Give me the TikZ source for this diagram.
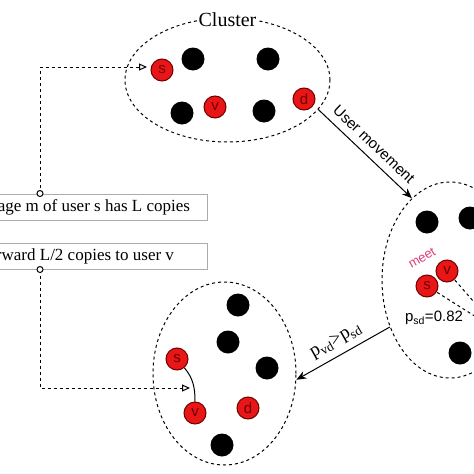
\documentclass[tikz,border=0pt]{standalone}
\usepackage{fontspec}
\setmainfont{Liberation Serif}
\setsansfont{Liberation Sans}
\usepackage{tikz}
\usetikzlibrary{arrows.meta,shapes.geometric}

\definecolor{nodered}{RGB}{232,22,22}
\definecolor{letterred}{RGB}{110,0,0}
\definecolor{meetpink}{RGB}{222,60,125}

\tikzset{
 cluster/.style={ellipse, draw, line width=1pt, dash pattern=on 3pt off 3pt, inner sep=0pt},
 user/.style={circle, draw=letterred, line width=1pt, fill=nodered, minimum size=22pt, inner sep=0pt, text=letterred, font=\sffamily\fontsize{15}{15}\selectfont},
 other/.style={circle, fill=black, minimum size=23pt, inner sep=0pt},
 msgbox/.style={draw=gray!65, line width=1pt, minimum width=262pt, minimum height=26pt, inner sep=0pt, font=\fontsize{17}{17}\selectfont},
 flow/.style={line width=1pt, dash pattern=on 3pt off 3pt, -{Triangle[open, length=8pt, width=7pt]}},
 link/.style={line width=1pt, dash pattern=on 3pt off 3pt},
 knob/.style={line width=1pt, fill=white},
 move/.style={line width=1pt, -{Stealth[length=10pt, width=8pt]}},
 sffont/.style={font=\sffamily\fontsize{15}{15}\selectfont}
}

\begin{document}
\begin{tikzpicture}[x=1pt,y=-1pt]
\useasboundingbox (0,0) rectangle (474,474);
\clip (0,0) rectangle (474,474);

\node[cluster, minimum width=205pt, minimum height=124pt] (topcl) at (227.5,80) {};
\node[cluster, minimum width=136pt, minimum height=196pt] (rightcl) at (450,280) {};
\node[cluster, minimum width=143pt, minimum height=183pt] (botcl) at (224.5,373.5) {};
\node[fill=white, inner sep=1pt, font=\fontsize{20}{20}\selectfont] (cltitle) at ([yshift=-2pt]topcl.north) {Cluster};

\node[user] (ts) at (162,70) {s};
\node[other] (tb1) at (193,59) {};
\node[other] (tb2) at (268,59) {};
\node[other] (tb3) at (182,113) {};
\node[user] (tv) at (215,107) {v};
\node[other] (tb4) at (264,111) {};
\node[user] (td) at (304,99) {d};

\coordinate (rd) at (500,332);
\node[other] (rb1) at (427,222) {};
\node[other] (rb2) at (470,218) {};
\node[other] (rb3) at (460,353) {};
\draw[link] (427,286) -- (rd);
\draw[link] (447,271) -- (rd);
\node[user] (rs) at (427,286) {s};
\node[user] (rv) at (447,271) {v};
\node[text=meetpink, rotate=30, font=\sffamily\fontsize{13}{13}\selectfont] (meetlbl) at (422,258) {meet};
\node[sffont, fill=white, inner sep=1pt] (psdlbl) at (434,318) {p\textsubscript{sd}=0.82};

\node[other] (bb1) at (238,305) {};
\node[other] (bb2) at (228,342) {};
\node[other] (bb3) at (267,368) {};
\node[user] (bs) at (177,359) {s};
\node[user] (bv) at (195,413) {v};
\node[user] (bd) at (248,408) {d};
\node[other] (bb4) at (222,445) {};
\draw[line width=1pt] (bs) to[out=-50, in=90] (bv);

\node[msgbox] (msgbox) at (76,207) {Message m of user s has L copies};
\node[msgbox] (fwdbox) at (76,256) {Forward L/2 copies to user v};

\coordinate (xleft) at (40,0);
\coordinate (tophead) at (147,67);
\coordinate (bothead) at (190,388);
\draw[flow] (msgbox.north -| xleft) |- (tophead);
\draw[flow] (fwdbox.south -| xleft) |- (bothead);
\draw[knob] (msgbox.north -| xleft) circle[radius=3pt];
\draw[knob] (fwdbox.south -| xleft) circle[radius=3pt];

\draw[move] (topcl.-18) -- (rightcl.115) node[midway, sloped, above=4pt, sffont] {User movement};
\draw[move] (rightcl.218) -- (botcl.-5) node[midway, sloped, above=3pt, font=\fontsize{19}{19}\selectfont] {p\textsubscript{vd}>p\textsubscript{sd}};
\end{tikzpicture}
\end{document}
